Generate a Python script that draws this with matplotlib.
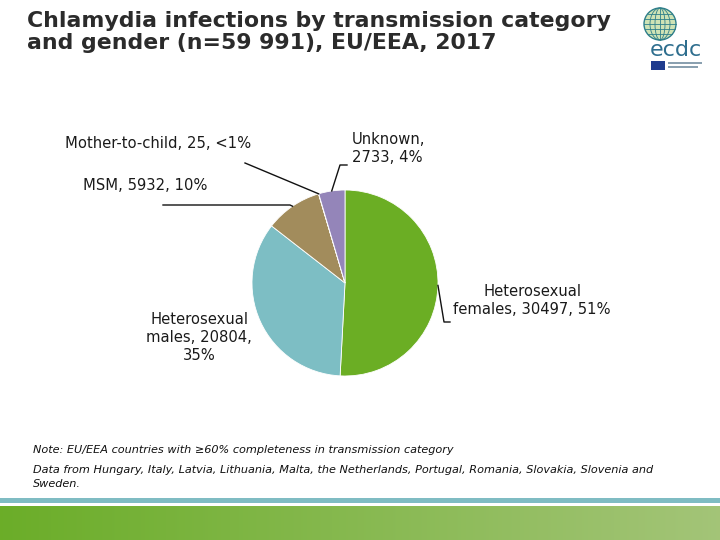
import numpy as np
import matplotlib
matplotlib.use("Agg")
import matplotlib.pyplot as plt
from matplotlib.patches import Rectangle, Circle, Ellipse

categories = ["Heterosexual females", "Heterosexual males", "MSM", "Mother-to-child", "Unknown"]
values = [30497, 20804, 5932, 25, 2733]
pct_labels = ["51%", "35%", "10%", "<1%", "4%"]
colors = ["#6BAE24", "#7DBEC4", "#A28C5C", "#B0B0B0", "#9485B9"]

title = "Chlamydia infections by transmission category\nand gender (n=59 991), EU/EEA, 2017"
note1 = "Note: EU/EEA countries with \u226560% completeness in transmission category"
note2 = ("Data from Hungary, Italy, Latvia, Lithuania, Malta, the Netherlands, Portugal, Romania, Slovakia, Slovenia and\n"
         "Sweden.")

W, H = 720, 540
fig = plt.figure(figsize=(W / 100, H / 100), dpi=100)
fig.patch.set_facecolor("white")

# pie axes: centre (345,283) px, radius 93 px
cx, cy, R = 345, 283, 93
ax = fig.add_axes([(cx - R) / W, 1 - (cy + R) / H, 2 * R / W, 2 * R / H])
wedges, _ = ax.pie(values, colors=colors, startangle=90, counterclock=False,
                   wedgeprops=dict(edgecolor="white", linewidth=0.6))
ax.set_xlim(-1, 1)
ax.set_ylim(-1, 1)
ax.set_aspect("equal")
ax.axis("off")


def p2d(px, py):
    return ((px - cx) / R, (cy - py) / R)


def edge(i):
    w = wedges[i]
    a = np.deg2rad((w.theta1 + w.theta2) / 2)
    return (np.cos(a), np.sin(a))


lab_kw = dict(fontsize=10.6, color="#1a1a1a", clip_on=False, linespacing=1.25)
lcol = "#111111"

# Heterosexual females
e = edge(0)
pts = [e, p2d(444, 322), p2d(450, 322)]
ax.plot([p[0] for p in pts], [p[1] for p in pts], color=lcol, lw=1, clip_on=False)
ax.text(*p2d(532, 300), f"Heterosexual\nfemales, {values[0]}, {pct_labels[0]}",
        ha="center", va="center", multialignment="center", **lab_kw)

# Heterosexual males
ax.text(*p2d(199, 338), f"Heterosexual\nmales, {values[1]},\n{pct_labels[1]}",
        ha="center", va="center", multialignment="center", **lab_kw)

# MSM
e = edge(2)
pts = [e, p2d(290, 205), p2d(163, 205)]
ax.plot([p[0] for p in pts], [p[1] for p in pts], color=lcol, lw=1, clip_on=False)
ax.text(*p2d(83, 186), f"MSM, {values[2]}, {pct_labels[2]}", ha="left", va="center", **lab_kw)

# Mother-to-child
e = edge(3)
pts = [e, p2d(245, 163)]
ax.plot([p[0] for p in pts], [p[1] for p in pts], color=lcol, lw=1, clip_on=False)
ax.text(*p2d(65, 143), f"Mother-to-child, {values[3]}, {pct_labels[3]}", ha="left", va="center", **lab_kw)

# Unknown
e = edge(4)
pts = [e, p2d(340, 165), p2d(347, 165)]
ax.plot([p[0] for p in pts], [p[1] for p in pts], color=lcol, lw=1, clip_on=False)
ax.text(*p2d(352, 149), f"Unknown,\n{values[4]}, {pct_labels[4]}", ha="left", va="center",
        multialignment="left", **lab_kw)

# title
fig.text(27 / W, 1 - 11 / H, title, ha="left", va="top", fontsize=15.8, fontweight="bold",
         color="#2b2b2b", linespacing=1.15)

# notes
fig.text(33 / W, 1 - 450 / H, note1, ha="left", va="center", fontsize=8.1, style="italic", color="#111111")
fig.text(33 / W, 1 - 477 / H, note2, ha="left", va="center", fontsize=8.1, style="italic",
         color="#111111", linespacing=1.4)

# bottom band
bax = fig.add_axes([0, 0, 1, 1])
bax.set_xlim(0, W)
bax.set_ylim(H, 0)
bax.axis("off")
bax.set_zorder(-1)
bax.add_patch(Rectangle((0, 498), W, 5, color="#7FBCC3", lw=0))
grad = np.linspace(0, 1, 256)
c0 = np.array([0.42, 0.68, 0.16])
c1 = np.array([0.64, 0.77, 0.47])
img = c0[None, :] * (1 - grad[:, None]) + c1[None, :] * grad[:, None]
bax.imshow(img[None, :, :], extent=(0, W, 540, 506), aspect="auto", zorder=0)
bax.set_xlim(0, W)
bax.set_ylim(H, 0)

# logo
gx, gy, gr = 660, 24, 16
bax.add_patch(Circle((gx, gy), gr, facecolor="#CFE3B5", edgecolor="#2F7F8A", lw=1))
for dy in (-10, -5, 0, 5, 10):
    hw = np.sqrt(max(gr ** 2 - dy ** 2, 0))
    bax.plot([gx - hw, gx + hw], [gy + dy, gy + dy], color="#2F7F8A", lw=0.6)
for wx in (5, 10):
    bax.add_patch(Ellipse((gx, gy), wx * 2, gr * 2, fill=False, edgecolor="#2F7F8A", lw=0.6))
bax.plot([gx, gx], [gy - gr, gy + gr], color="#2F7F8A", lw=0.6)
bax.text(676, 50, "ecdc", ha="center", va="center", fontsize=16, color="#2E6E8E")
bax.add_patch(Rectangle((651, 61), 14, 9, color="#1F3C8F", lw=0))
bax.add_patch(Rectangle((668, 62), 34, 2, color="#8AA0B0", lw=0))
bax.add_patch(Rectangle((668, 66), 30, 2, color="#8AA0B0", lw=0))

fig.savefig("out.png", dpi=100, facecolor="white")
